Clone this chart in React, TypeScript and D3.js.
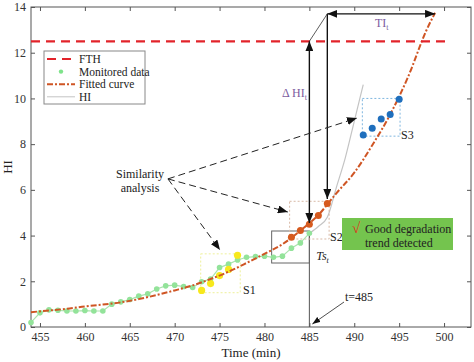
import React, { useEffect, useRef } from 'react';
import * as d3 from 'd3';

// monitored HI (green) up to t=485
const monTime = [454, 455, 456, 457, 458, 459, 460, 461, 462, 463, 464, 465, 466, 467, 468, 469,
  470, 471, 472, 473, 474, 475, 476, 477, 478, 479, 480, 481, 482, 483, 484, 485];
const monHI = [0.2, 0.62, 0.75, 0.73, 0.7, 0.7, 0.72, 0.7, 0.7, 1.0, 1.1, 1.2, 1.35, 1.45, 1.66, 1.8,
  1.83, 1.77, 1.73, 1.98, 2.1, 2.6, 2.75, 2.93, 3.05, 3.08, 3.1, 3.05, 3.1, 3.45, 3.68, 4.1];

// grey HI after t=485
const hiTime = [485, 486, 487, 488, 489, 490, 491];
const hiVal = [4.1, 4.4, 4.8, 6.1, 7.4, 9.0, 10.6];

// fitted curve samples
const fitTime = [454, 456, 458, 460, 462, 464, 466, 468, 470, 472, 474, 476, 478, 480, 482, 484,
  486, 488, 490, 492, 494, 496, 498, 499];
const fitHI = [0.65, 0.72, 0.8, 0.9, 0.98, 1.08, 1.22, 1.4, 1.6, 1.82, 2.1, 2.42, 2.8, 3.2, 3.62, 4.22,
  4.9, 5.85, 6.75, 7.95, 9.3, 10.95, 12.95, 13.75];

// similar segments
const s1Time = [473, 474, 475, 476, 477];
const s1HI = [1.6, 1.9, 2.25, 2.52, 3.14];
const s2Time = [483, 484, 485, 486, 487];
const s2HI = [3.93, 4.22, 4.5, 4.88, 5.4];
const s3Time = [491, 492, 493, 494, 495];
const s3HI = [8.4, 8.7, 9.1, 9.3, 9.96];

const FTH = 12.5;
const xTicks = [455, 460, 465, 470, 475, 480, 485, 490, 495, 500];
const yTicks = [0, 2, 4, 6, 8, 10, 12, 14];

const FONT = '"Liberation Serif", "Times New Roman", serif';

const App = () => {
  const svgRef = useRef<SVGSVGElement>(null);
  const width = 474;
  const height = 362;

  useEffect(() => {
    if (!svgRef.current) return;
    const svg = d3.select(svgRef.current);
    svg.selectAll('*').remove();

    const x = d3.scaleLinear().domain([454, 503]).range([31, 471]);
    const y = d3.scaleLinear().domain([0, 14]).range([327, 7]);
    const AX = '#555';

    // arrow markers
    const defs = svg.append('defs');
    const mk = (id: string, w: number, h: number) => {
      defs.append('marker')
        .attr('id', id)
        .attr('viewBox', `0 0 ${w} ${h}`)
        .attr('refX', w).attr('refY', h / 2)
        .attr('markerWidth', w).attr('markerHeight', h)
        .attr('markerUnits', 'userSpaceOnUse')
        .attr('orient', 'auto-start-reverse')
        .append('path')
        .attr('d', `M0,0 L${w},${h / 2} L0,${h} Z`)
        .attr('fill', '#111');
    };
    mk('ah', 10, 8);
    mk('ahs', 8, 6);

    svg.append('rect').attr('x', 31).attr('y', 7).attr('width', 440).attr('height', 320)
      .attr('fill', '#fff');

    // axes
    const gx = svg.append('g').attr('transform', 'translate(0,327)')
      .call(d3.axisBottom(x).tickValues(xTicks).tickSize(-4).tickPadding(5));
    const gy = svg.append('g').attr('transform', 'translate(31,0)')
      .call(d3.axisLeft(y).tickValues(yTicks).tickSize(-4).tickPadding(5));
    svg.append('g').attr('transform', 'translate(0,7)')
      .call(d3.axisTop(x).tickValues(xTicks).tickSize(-4).tickFormat(() => ''));
    svg.append('g').attr('transform', 'translate(471,0)')
      .call(d3.axisRight(y).tickValues(yTicks).tickSize(-4).tickFormat(() => ''));
    svg.selectAll('.domain').remove();
    svg.selectAll('.tick line').attr('stroke', AX);
    [gx, gy].forEach(g => g.selectAll('text')
      .attr('font-family', FONT).attr('font-size', 12).attr('fill', '#333'));

    svg.append('rect').attr('x', 31).attr('y', 7).attr('width', 440).attr('height', 320)
      .attr('fill', 'none').attr('stroke', AX).attr('stroke-width', 1);

    svg.append('text').attr('x', 251).attr('y', 357).attr('text-anchor', 'middle')
      .attr('font-family', FONT).attr('font-size', 13).attr('fill', '#222').text('Time (min)');
    svg.append('text').attr('transform', 'translate(12,167) rotate(-90)').attr('text-anchor', 'middle')
      .attr('font-family', FONT).attr('font-size', 13).attr('fill', '#222').text('HI');

    const line = d3.line<[number, number]>().x(d => x(d[0])).y(d => y(d[1]));
    const smooth = d3.line<[number, number]>().x(d => x(d[0])).y(d => y(d[1])).curve(d3.curveMonotoneX);

    // grey HI (future)
    svg.append('path').datum(hiTime.map((t, i) => [t, hiVal[i]] as [number, number]))
      .attr('d', smooth).attr('fill', 'none').attr('stroke', '#c4c4c4').attr('stroke-width', 1.2);

    // vertical t=485 thin line
    svg.append('line').attr('x1', x(485)).attr('x2', x(485)).attr('y1', y(0)).attr('y2', y(4.2))
      .attr('stroke', '#555').attr('stroke-width', 1);

    // Ts box
    svg.append('rect').attr('x', x(480.8)).attr('y', y(4.2))
      .attr('width', x(485) - x(480.8)).attr('height', y(2.8) - y(4.2))
      .attr('fill', 'none').attr('stroke', '#666').attr('stroke-width', 1);

    // similarity boxes
    const box = (t0: number, t1: number, h0: number, h1: number, c: string) => {
      svg.append('rect').attr('x', x(t0)).attr('y', y(h1))
        .attr('width', x(t1) - x(t0)).attr('height', y(h0) - y(h1))
        .attr('fill', 'none').attr('stroke', c).attr('stroke-width', 1).attr('stroke-dasharray', '2,2');
    };
    box(472.9, 477.3, 1.5, 3.2, '#eef09a');
    box(482.8, 487.2, 3.85, 5.5, '#d8b9a6');
    box(490.9, 495.1, 8.35, 10.0, '#7fb6df');

    // monitored data
    const mon = monTime.map((t, i) => [t, monHI[i]] as [number, number]);
    svg.append('path').datum(mon).attr('d', line).attr('fill', 'none')
      .attr('stroke', '#a9e4ac').attr('stroke-width', 1.2);
    svg.selectAll('.mon').data(mon).enter().append('circle')
      .attr('cx', d => x(d[0])).attr('cy', d => y(d[1])).attr('r', 2.8)
      .attr('fill', '#93e39a');

    // S1 yellow
    svg.selectAll('.s1').data(s1Time).enter().append('circle')
      .attr('cx', d => x(d)).attr('cy', (d, i) => y(s1HI[i])).attr('r', 3.6).attr('fill', '#f7e81c');

    // fitted curve
    svg.append('path').datum(fitTime.map((t, i) => [t, fitHI[i]] as [number, number]))
      .attr('d', smooth).attr('fill', 'none').attr('stroke', '#cf5524').attr('stroke-width', 2)
      .attr('stroke-dasharray', '6,2,2,2');

    // FTH
    svg.append('line').attr('x1', x(454)).attr('x2', x(500.7)).attr('y1', y(FTH)).attr('y2', y(FTH))
      .attr('stroke', '#e2232a').attr('stroke-width', 2.2).attr('stroke-dasharray', '9,6');

    // S2, S3 dots
    svg.selectAll('.s2').data(s2Time).enter().append('circle')
      .attr('cx', d => x(d)).attr('cy', (d, i) => y(s2HI[i])).attr('r', 3.5).attr('fill', '#d65a1e');
    svg.selectAll('.s3').data(s3Time).enter().append('circle')
      .attr('cx', d => x(d)).attr('cy', (d, i) => y(s3HI[i])).attr('r', 3.5).attr('fill', '#1f6fbd');

    const label = (px: number, py: number, txt: string, anchor = 'start') =>
      svg.append('text').attr('x', px).attr('y', py).attr('text-anchor', anchor)
        .attr('font-family', FONT).attr('font-size', 12).attr('fill', '#222').text(txt);
    label(x(477.4) + 2, y(1.6) + 4, 'S1');
    label(x(487.2) + 1, y(3.8) + 1, 'S2');
    label(x(495.1) + 1, y(8.4) + 4, 'S3');

    // Ts_t
    const ts = svg.append('text').attr('x', x(485) + 7).attr('y', y(2.8) - 3)
      .attr('font-family', FONT).attr('font-size', 12).attr('font-style', 'italic').attr('fill', '#222');
    ts.append('tspan').text('Ts');
    ts.append('tspan').attr('font-size', 8).attr('dy', 3).text('t');

    // delta HI double arrow
    svg.append('line').attr('x1', x(485)).attr('x2', x(485)).attr('y1', y(FTH)).attr('y2', y(4.55))
      .attr('stroke', '#111').attr('stroke-width', 1.4)
      .attr('marker-start', 'url(#ah)').attr('marker-end', 'url(#ah)');
    // TI vertical + horizontal
    svg.append('line').attr('x1', x(487)).attr('x2', x(487)).attr('y1', y(13.7)).attr('y2', y(5.6))
      .attr('stroke', '#111').attr('stroke-width', 1.4).attr('marker-end', 'url(#ah)');
    svg.append('line').attr('x1', x(487)).attr('x2', x(499)).attr('y1', y(13.7)).attr('y2', y(13.7))
      .attr('stroke', '#111').attr('stroke-width', 1.4)
      .attr('marker-start', 'url(#ah)').attr('marker-end', 'url(#ah)');
    svg.append('line').attr('x1', x(487)).attr('x2', x(485)).attr('y1', y(13.7)).attr('y2', y(FTH))
      .attr('stroke', '#333').attr('stroke-width', 0.8);

    const purple = '#7c5c9e';
    const ti = svg.append('text').attr('x', 375).attr('y', 27)
      .attr('font-family', FONT).attr('font-size', 12).attr('fill', purple);
    ti.append('tspan').text('TI');
    ti.append('tspan').attr('font-size', 8).attr('dy', 3).text('t');
    const dh = svg.append('text').attr('x', 282).attr('y', 97)
      .attr('font-family', FONT).attr('font-size', 12).attr('fill', purple);
    dh.append('tspan').text('Δ HI');
    dh.append('tspan').attr('font-size', 8).attr('dy', 3).text('t');

    // similarity analysis
    label(140, 178, 'Similarity', 'middle');
    label(140, 192, 'analysis', 'middle');
    const src: [number, number] = [469.25, 6.48];
    const tips: [number, number][] = [[490.3, 9.14], [482.6, 5.03], [475.05, 3.37]];
    tips.forEach(tp => {
      svg.append('line').attr('x1', x(src[0])).attr('y1', y(src[1]))
        .attr('x2', x(tp[0])).attr('y2', y(tp[1]))
        .attr('stroke', '#222').attr('stroke-width', 1).attr('stroke-dasharray', '7,4')
        .attr('marker-end', 'url(#ah)');
    });

    // t=485 pointer
    svg.append('line').attr('x1', 344).attr('y1', 302).attr('x2', x(485) + 3).attr('y2', y(0) - 3)
      .attr('stroke', '#222').attr('stroke-width', 0.8).attr('marker-end', 'url(#ahs)');
    label(345, 301, 't=485');

    // green status box
    svg.append('rect').attr('x', 342).attr('y', 218).attr('width', 111).attr('height', 32)
      .attr('fill', '#74c44e');
    svg.append('text').attr('x', 352).attr('y', 233).attr('font-family', FONT).attr('font-size', 15)
      .attr('font-weight', 'bold').attr('fill', '#e0301e').text('√');
    label(365, 233, 'Good degradation');
    label(365, 247, 'trend detected');

    // legend
    const lg = svg.append('g');
    lg.append('rect').attr('x', 44).attr('y', 51).attr('width', 101).attr('height', 53)
      .attr('fill', '#fff').attr('stroke', '#888').attr('stroke-width', 1);
    const items = [
      { name: 'FTH', stroke: '#e2232a', dash: '9,6', w: 2.2 },
      { name: 'Monitored data', stroke: null, dash: '', w: 0 },
      { name: 'Fitted curve', stroke: '#cf5524', dash: '6,2,2,2', w: 2 },
      { name: 'HI', stroke: '#c4c4c4', dash: '', w: 1 }
    ];
    items.forEach((it, i) => {
      const cy = 59 + i * 12.6;
      if (it.stroke) {
        lg.append('line').attr('x1', 47).attr('x2', 75).attr('y1', cy).attr('y2', cy)
          .attr('stroke', it.stroke).attr('stroke-width', it.w).attr('stroke-dasharray', it.dash);
      } else {
        lg.append('circle').attr('cx', 61).attr('cy', cy).attr('r', 2.2).attr('fill', '#7ee38a');
      }
      lg.append('text').attr('x', 79).attr('y', cy + 4).attr('font-family', FONT)
        .attr('font-size', 11.5).attr('fill', '#222').text(it.name);
    });
  }, []);

  return (
    <div style={{ position: 'absolute', left: 0, top: 0, width: `${width}px`, height: `${height}px`, background: '#fff' }}>
      <svg ref={svgRef} width={width} height={height}></svg>
    </div>
  );
};

export default App;
